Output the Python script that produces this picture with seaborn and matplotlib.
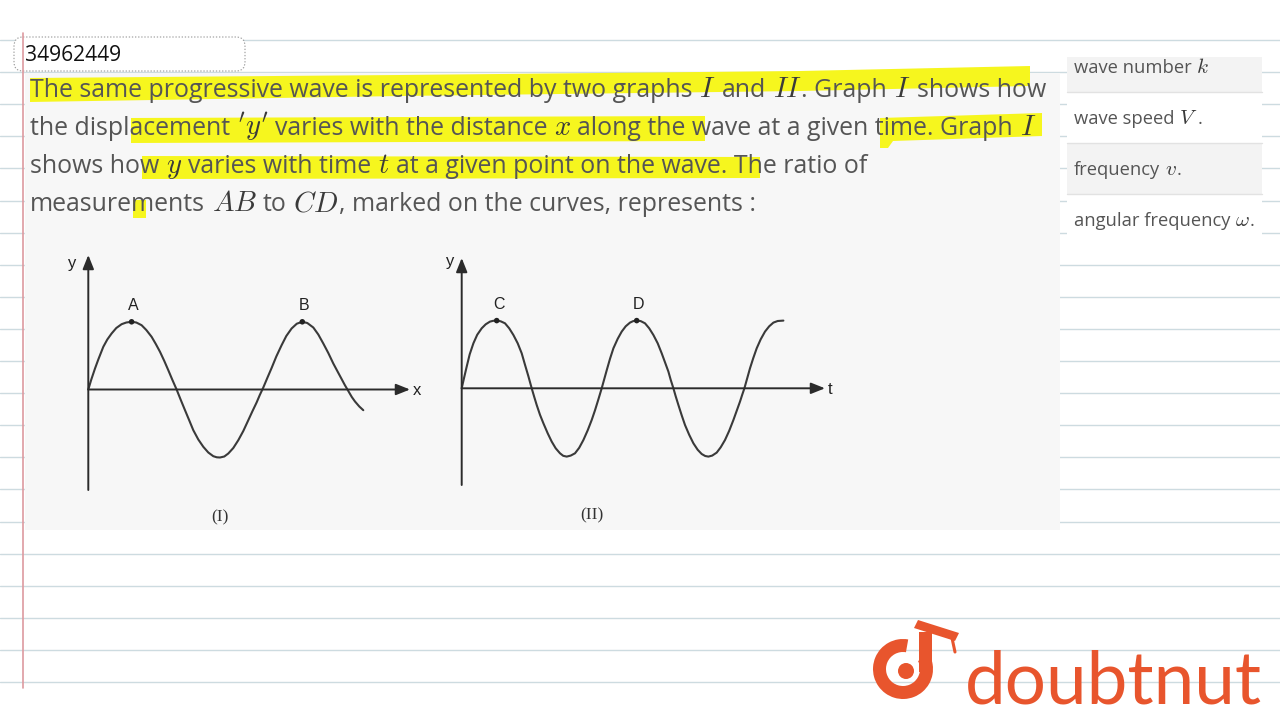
import matplotlib
matplotlib.use("Agg")
import matplotlib.pyplot as plt
import seaborn as sns
import pandas as pd
from matplotlib.patches import Rectangle, FancyBboxPatch, Polygon, Wedge, Circle

sns.set_theme(style="white")
plt.rcParams["font.family"] = ["Open Sans", "DejaVu Sans"]
plt.rcParams["mathtext.fontset"] = "cm"

# ---------------- data ----------------
question_id = "34962449"
question_lines = [
    "The same progressive wave is represented by two graphs $I$ and $II$. Graph $I$ shows how",
    "the displacement ${}^{\\prime}y^{\\prime}$ varies with the distance $x$ along the wave at a given time. Graph $I$",
    "shows how $y$ varies with time $t$ at a given point on the wave. The ratio of",
    "measurements $AB$ to $CD$, marked on the curves, represents :",
]
option_texts = ["wave number $k$", "wave speed $V$.", "frequency $v$.", "angular frequency $\\omega$."]
graph_captions = ["(I)", "(II)"]
axis_labels_1 = ["x", "y"]
axis_labels_2 = ["t", "y"]

# Graph I : displacement vs distance
distance_x = [0, 3, 6.7, 10, 15, 19, 23.3, 28, 33.3, 38, 43.3,
              48, 53.3, 58, 63.3, 67.5, 71.7, 76, 80, 84, 88.3, 92.5, 96.7, 101, 105,
              110, 115, 120, 125, 128.5, 131.7,
              136, 140, 145, 150, 155, 160, 164, 168.3, 171.5, 175, 179, 183.3, 188,
              193.3, 198, 203.3, 208.5, 214,
              219, 225, 230, 235, 240, 245, 249, 253.3, 256.5, 260, 263.5, 266.7, 271, 275]
displacement_x = [0, 10, 21, 30, 42.7, 50, 56, 61.5, 65.3, 67, 67.7,
                  67, 64.3, 59.5, 52.7, 45.5, 37.7, 28.5, 19.3, 9.8, 0, -10.5, -20.7, -31,
                  -40.7, -50, -57.3, -63, -66.7, -67.8, -68,
                  -67, -64, -58.5, -50.7, -41.5, -30.7, -22, -13, -5.5, 2, 11.5, 21.5, 33,
                  44.3, 53.5, 61, 65.8, 67.7,
                  66.5, 62, 55, 46, 36.5, 26, 18.5, 10.5, 4.5, -1.5, -7.5, -12, -17, -20.7]
peaks_1_labels = ["A", "B"]
peaks_1_x = [43.3, 214]
peaks_1_y = [67.7, 67.7]

# Graph II : displacement vs time
time_t = [0, 2.5, 5, 8, 11.7, 15.5, 20, 24, 28.3, 31.5, 35,
          39, 43.3, 47.5, 51.7, 56, 60, 63.3, 66.7, 70, 72.5, 75, 78.3, 81.7, 86, 90,
          94, 98.3, 101.5, 105,
          109, 113.3, 117.5, 121.7, 126, 130, 133.3, 136.7, 140, 142.5, 145, 148.3,
          151.7, 156, 160, 164, 168.3, 171.5, 175,
          179, 183.3, 187.5, 191.7, 196, 200, 203.3, 206.7, 209, 211.7, 214, 216.7, 220,
          223.3, 227.5, 231.7, 236, 240, 243.5, 246.7,
          250.5, 255, 259, 263.3, 267.5, 271.7, 275, 278.3, 280.5, 282.7, 285.5, 288.3,
          291.5, 295, 299, 303.3, 307.5, 311.7, 316, 321.7]
displacement_t = [0, 11, 21.7, 34, 45, 53.5, 60, 64, 66.7, 67.5, 67.7,
                  67, 65, 60, 53.3, 45, 35, 23.5, 12, 0, -8.5, -16.7, -26.5, -35, -45, -53.3,
                  -60, -65, -67.5, -68.3,
                  -67.3, -65, -59.5, -51.7, -42, -31.7, -22, -11, 0, 9, 18, 29.5,
                  40, 49.5, 56.7, 62, 65.7, 67.2, 67.7,
                  67.2, 65, 60, 53.3, 45, 35, 26, 16.7, 8.5, 0, -8, -16.7, -27,
                  -36.7, -46.5, -55, -61.5, -65.7, -67.7, -68.3,
                  -67.3, -64.3, -59, -51.7, -42.5, -31.7, -22.5, -13.3, -6.5, 0, 10, 20,
                  30, 40, 49, 56.7, 62, 65.7, 67.3, 67.7]
peaks_2_labels = ["C", "D"]
peaks_2_x = [35, 175]
peaks_2_y = [67.7, 67.7]

# ---------------- figure / page ----------------
W, H = 1280, 720
fig = plt.figure(figsize=(12.8, 7.2), dpi=100)
fig.patch.set_facecolor("white")
bg = fig.add_axes([0, 0, 1, 1])
bg.set_xlim(0, W)
bg.set_ylim(H, 0)
bg.axis("off")
renderer = fig.canvas.get_renderer()

rule_c = "#cddbe0"
for k in range(21):
    yy = 40 + 32.1 * k
    bg.plot([0, W], [yy, yy], color=rule_c, lw=1.0, zorder=0)
bg.plot([23, 23], [33, 688], color="#dd9aa0", lw=1.2, zorder=4)

# content panel
bg.add_patch(Rectangle((25, 73), 1035, 457, fc="#f7f7f7", ec="none", zorder=1))
# options panel
bg.add_patch(Rectangle((1067, 57), 195, 188, fc="white", ec="none", zorder=1))
bg.add_patch(Rectangle((1067, 57), 195, 35, fc="#f3f3f3", ec="none", zorder=1.5))
bg.add_patch(Rectangle((1067, 143), 195, 51, fc="#f3f3f3", ec="none", zorder=1.5))
for yy in [92, 143, 194]:
    bg.plot([1067, 1262], [yy, yy], color="#e2e2e2", lw=1.0, zorder=1.6)

# id box
bg.add_patch(FancyBboxPatch((14, 37), 231, 34, boxstyle="round,pad=0,rounding_size=9",
                            fc="white", ec="#9a9a9a", lw=0.8, ls=(0, (1.2, 1.6)), zorder=3))

# highlights
hl_c = "#f6f61e"
highlights = [
    [(30, 78), (400, 75), (800, 71), (1030, 66), (1030, 86), (800, 91), (400, 96), (30, 102)],
    [(131, 118), (705, 116), (705, 141), (131, 143)],
    [(880, 118), (1042, 113), (1042, 136), (893, 141), (888, 148), (880, 148)],
    [(142, 156), (760, 157), (760, 178), (142, 179)],
    [(133, 200), (146, 200), (146, 218), (133, 218)],
]
for poly in highlights:
    bg.add_patch(Polygon(poly, closed=True, fc=hl_c, ec="none", zorder=3))


def text_width(s, **kw):
    t = bg.text(0, 0, s, **kw)
    w = t.get_window_extent(renderer).width
    t.remove()
    return w


def rich_line(s, x, y, fs, color, mcolor, mscale=1.15, draw=True, zorder=6):
    parts = s.split("$")
    sp = text_width("x x", fontsize=fs) - text_width("xx", fontsize=fs)
    for i, p in enumerate(parts):
        if p == "":
            continue
        if i % 2 == 1:
            txt = "$" + p + "$"
            kw = dict(fontsize=fs * mscale, color=mcolor)
            lead = trail = 0
        else:
            lead = len(p) - len(p.lstrip(" "))
            trail = len(p) - len(p.rstrip(" "))
            txt = p.strip(" ")
            kw = dict(fontsize=fs, color=color)
        x += lead * sp
        if txt:
            if draw:
                t = bg.text(x, y, txt, va="baseline", ha="left", zorder=zorder, **kw)
                x += t.get_window_extent(renderer).width
            else:
                x += text_width(txt, **kw)
        x += trail * sp
    return x


txt_c = "#555555"
math_c = "#3a3a3a"
w1 = rich_line(question_lines[0], 0, 0, 15, txt_c, math_c, draw=False)
fs_q = 15 * 1018 / w1
for i, line in enumerate(question_lines):
    rich_line(line, 30, 97 + 38 * i, fs_q, txt_c, math_c)

wo = rich_line(option_texts[3], 0, 0, 12, txt_c, math_c, draw=False)
fs_o = 12 * 181 / wo
for i, line in enumerate(option_texts):
    rich_line(line, 1074, 73 + 51 * i, fs_o, txt_c, math_c)

fs_id = 13 * 96 / text_width(question_id, fontsize=13)
bg.text(25, 61, question_id, fontsize=fs_id, color="#111111", va="baseline", zorder=6)

# ---------------- graphs ----------------
curve_c = "#3a3a3a"
axis_c = "#2b2b2b"
lab_font = ["Liberation Sans", "DejaVu Sans"]


def graph_axes(origin, box):
    ox, oy = origin
    x0, y0, x1, y1 = box
    ax = fig.add_axes([x0 / W, 1 - y1 / H, (x1 - x0) / W, (y1 - y0) / H])
    ax.set_xlim(x0 - ox, x1 - ox)
    ax.set_ylim(oy - y1, oy - y0)
    ax.axis("off")
    ax.patch.set_alpha(0)
    return ax


def draw_graph(ax, xs, ys, px, py, plabels, xtip, ytop, ybot, xlab, ylab, ylab_pos):
    ap = dict(arrowstyle="-|>,head_length=0.7,head_width=0.28", color=axis_c, lw=1.4,
              shrinkA=0, shrinkB=0)
    ax.annotate("", xy=(xtip, 0), xytext=(0, 0), arrowprops=ap)
    ax.annotate("", xy=(0, ytop), xytext=(0, ybot), arrowprops=ap)
    df = pd.DataFrame({"x": xs, "y": ys})
    sns.lineplot(data=df, x="x", y="y", ax=ax, sort=False, estimator=None,
                 color=curve_c, lw=1.5)
    sns.scatterplot(x=px, y=py, ax=ax, s=16, color="#222222", edgecolor="none", zorder=5)
    for lx, ly, lb in zip(px, py, plabels):
        ax.text(lx + 2, ly + 9, lb, fontsize=11.5, family=lab_font, color="#222222",
                ha="center", va="bottom")
    ax.text(xtip + 3, -1, xlab, fontsize=12, family=lab_font, color="#222222",
            ha="left", va="center")
    ax.text(ylab_pos[0], ylab_pos[1], ylab, fontsize=12, family=lab_font, color="#222222",
            ha="center", va="center")
    ax.set_xlabel("")
    ax.set_ylabel("")


ax1 = graph_axes((88.3, 389.5), (50, 240, 440, 500))
draw_graph(ax1, distance_x, displacement_x, peaks_1_x, peaks_1_y, peaks_1_labels,
           321.7, 134.5, -100.5, axis_labels_1[0], axis_labels_1[1], (-16.6, 126))

ax2 = graph_axes((461.7, 388.3), (425, 240, 850, 500))
draw_graph(ax2, time_t, displacement_t, peaks_2_x, peaks_2_y, peaks_2_labels,
           363.3, 130.3, -96.7, axis_labels_2[0], axis_labels_2[1], (-11.7, 127))

serif = ["Liberation Serif", "DejaVu Serif"]
bg.text(220, 517, graph_captions[0], fontsize=12.5, family=serif, color="#333333",
        ha="center", va="center", zorder=6)
bg.text(592, 515, graph_captions[1], fontsize=12.5, family=serif, color="#333333",
        ha="center", va="center", zorder=6)

# ---------------- logo ----------------
logo_c = "#e8552d"
bg.add_patch(Wedge((903, 669), 30, -28, 280, width=13, fc=logo_c, ec="none", zorder=7))
bg.add_patch(Rectangle((919, 632), 13, 40, fc=logo_c, ec="none", zorder=7))
bg.add_patch(Circle((906, 671), 8, fc=logo_c, ec="none", zorder=7))
bg.add_patch(Polygon([(914, 628), (918, 620), (959, 633), (955, 641)], closed=True,
                     fc=logo_c, ec="none", zorder=7))
bg.plot([952, 955], [638, 652], color=logo_c, lw=2.2, zorder=7)
logo_font = ["Lato", "DejaVu Sans"]
fs_logo = 40 * 297 / text_width("doubtnut", fontsize=40, family=logo_font)
bg.text(965, 703, "doubtnut", fontsize=fs_logo, family=logo_font,
        color=logo_c, va="baseline", ha="left", zorder=7)

fig.savefig("out.png", dpi=100, facecolor="white")
